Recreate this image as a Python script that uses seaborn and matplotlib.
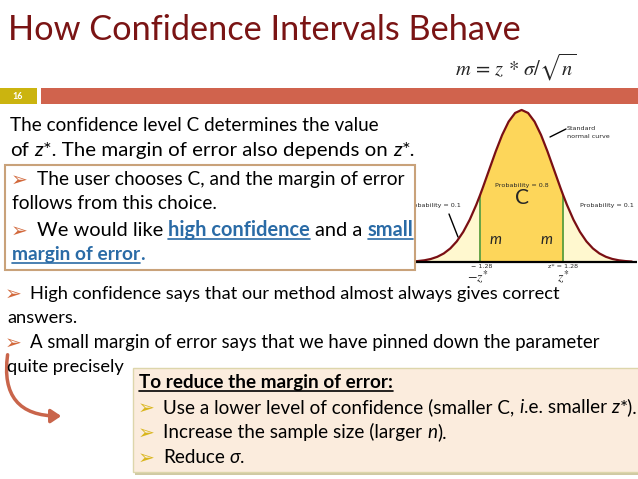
import numpy as np
import matplotlib
matplotlib.use('Agg')
import matplotlib.pyplot as plt
import seaborn as sns
from matplotlib.patches import Rectangle, FancyArrowPatch

# standard normal curve as drawn on the slide
z_vals = [-3.4, -3.2, -3.0, -2.8, -2.6, -2.4, -2.2, -2.0, -1.8, -1.6, -1.4, -1.28, -1.2,
          -1.0, -0.8, -0.6, -0.4, -0.2, 0.0, 0.2, 0.4, 0.6, 0.8, 1.0, 1.2, 1.28, 1.4,
          1.6, 1.8, 2.0, 2.2, 2.4, 2.6, 2.8, 3.0, 3.2, 3.4]
density = [0.0012, 0.0024, 0.0044, 0.0079, 0.0136, 0.0224, 0.0355, 0.0540, 0.0790, 0.1109,
           0.1497, 0.1758, 0.1942, 0.2420, 0.2897, 0.3332, 0.3683, 0.3910, 0.3989, 0.3910,
           0.3683, 0.3332, 0.2897, 0.2420, 0.1942, 0.1758, 0.1497, 0.1109, 0.0790, 0.0540,
           0.0355, 0.0224, 0.0136, 0.0079, 0.0044, 0.0024, 0.0012]
z_star = 1.28
z_star_height = 0.1758

title_text = 'How Confidence Intervals Behave'
slide_no = '16'

MAROON = '#7a1414'
BAR = '#d0634d'
OLIVE = '#cbb40f'
BLUE = '#2a6ba6'
GOLD = '#fdd65a'
PALE = '#fff8cf'
CURVE = '#7a0f14'
GREEN = '#5b9e3c'
ORANGE = '#d2693c'
YELLOW = '#d9b61c'

sns.set_theme(style='white')
plt.rcParams['font.family'] = ['Lato', 'DejaVu Sans']
plt.rcParams['mathtext.fontset'] = 'stix'

W, H = 638, 479
fig = plt.figure(figsize=(W / 100, H / 100), dpi=100)
fig.patch.set_facecolor('white')

bg = fig.add_axes([0, 0, 1, 1], zorder=0)
top = fig.add_axes([0, 0, 1, 1], zorder=2)
for a in (bg, top):
    a.set_xlim(0, W)
    a.set_ylim(H, 0)
    a.axis('off')

# ---- the normal curve picture ----
ax = fig.add_axes([413 / W, 1 - 285 / H, 224 / W, 185 / H], zorder=1)
z = np.array(z_vals)
d = np.array(density)
ax.fill_between(z, d, where=np.abs(z) <= z_star + 1e-9, color=GOLD, lw=0)
ax.fill_between(z, d, where=np.abs(z) >= z_star - 1e-9, color=PALE, lw=0)
ax.vlines([-z_star, z_star], 0, z_star_height, color=GREEN, lw=1.3)
sns.lineplot(x=z_vals, y=density, ax=ax, color=CURVE, lw=1.6)
ax.axhline(0, color='black', lw=1.6)
ax.set_xlim(-3.35, 3.56)
ax.set_ylim(-0.0604, 0.425)
ax.axis('off')

small = dict(fontsize=4.6, family='DejaVu Sans', transform=bg.transData)
ax.text(567, 128, 'Standard', va='center', **small)
ax.text(567, 137, 'normal curve', va='center', **small)
ax.plot([550, 566], [137, 129], color='black', lw=1, transform=bg.transData)
ax.text(522, 186, 'Probability = 0.8', ha='center', va='center', **small)
ax.text(461, 205, 'Probability = 0.1', ha='right', va='center', **small)
ax.text(634, 205, 'Probability = 0.1', ha='right', va='center', **small)
ax.plot([449, 458], [214, 237], color='black', lw=1, transform=bg.transData)
ax.text(522, 198, 'C', ha='center', va='center', fontsize=15, transform=bg.transData)
ax.text(496, 240, 'm', ha='center', va='center', fontsize=11, style='italic',
        transform=bg.transData)
ax.text(547, 240, 'm', ha='center', va='center', fontsize=11, style='italic',
        transform=bg.transData)
ax.text(482, 267, '\u2212 1.28', ha='center', va='center', **small)
ax.text(563, 267, 'z* = 1.28', ha='center', va='center', **small)
ax.text(478, 277, r'$-z^{*}$', ha='center', va='center', fontsize=10,
        transform=bg.transData)
ax.text(563, 277, r'$z^{*}$', ha='center', va='center', fontsize=10,
        transform=bg.transData)

# ---- text helpers ----
r = fig.canvas.get_renderer()


def seg_width(axis, s, size, kw):
    t = axis.text(0, 0, s, fontsize=size, **kw)
    w = t.get_window_extent(r).width
    t.remove()
    return w


def rich(axis, x, y, parts, size, draw=True):
    for s, st in parts:
        st = dict(st)
        under = st.pop('under', False)
        st.setdefault('color', 'black')
        sp = seg_width(axis, 'n n', size, st) - seg_width(axis, 'nn', size, st)
        core = s.strip(' ')
        x += (len(s) - len(s.lstrip(' '))) * sp
        w = seg_width(axis, core, size, st)
        if draw:
            axis.text(x, y, core, fontsize=size, va='baseline', zorder=4, **st)
            if under:
                axis.plot([x, x + w], [y + 2.6, y + 2.6], color=st['color'], lw=1.2,
                          zorder=4)
        x += w + (len(s) - len(s.rstrip(' '))) * sp
    return x


def fit(axis, parts, width):
    return 20 * width / rich(axis, 0, 0, parts, 20, draw=False)


def bullet(axis, x, y, color):
    axis.text(x, y + 1, '\u27a2', fontsize=14.5, family='DejaVu Sans', color=color,
              va='baseline', zorder=4)


I = dict(style='italic')
BL = dict(fontweight='bold', color=BLUE, under=True)

# ---- header ----
p = [(title_text, dict(color=MAROON))]
rich(bg, 8, 40, p, fit(bg, p, 514))
bg.text(455, 76, r'$m\,=\,z\,*\,\sigma/\sqrt{n}$', fontsize=14.8, va='baseline')
bg.add_patch(Rectangle((0, 88), 37, 16, color=OLIVE, lw=0))
bg.add_patch(Rectangle((41, 88), W - 41, 16, color=BAR, lw=0))
bg.text(18, 96, slide_no, color='white', fontsize=6.5, fontweight='bold',
        ha='center', va='center')

# ---- top paragraph ----
p = [('The confidence level C determines the value', {})]
s1 = fit(bg, p, 370)
rich(bg, 10, 131, p, s1)
p = [('of ', {}), ('z', I), ('*. The margin of error also depends on ', {}), ('z', I),
     ('*.', {})]
rich(bg, 10, 156, p, fit(bg, p, 405))

# ---- first box (sits over the picture) ----
top.add_patch(Rectangle((5, 165), 410, 105, facecolor='white', edgecolor='#c9a27a',
                        lw=1.5, zorder=1))
p = [('The user chooses C, and the margin of error', {})]
sb = fit(top, p, 368)
bullet(top, 11, 185, ORANGE)
rich(top, 37, 185, p, sb)
rich(top, 12, 209, [('follows from this choice.', {})], sb)
p = [('We would like ', {}), ('high confidence', BL), (' and a ', {}), ('small', BL)]
bullet(top, 11, 236, ORANGE)
rich(top, 37, 236, p, fit(top, p, 376))
rich(top, 12, 260, [('margin of error', BL), ('.', dict(fontweight='bold', color=BLUE))],
     sb)

# ---- middle paragraph ----
p = [('High confidence says that our method almost always gives correct', {})]
sm = fit(bg, p, 530)
bullet(bg, 5, 299, ORANGE)
rich(bg, 30, 299, p, sm)
rich(bg, 7, 323, [('answers.', {})], sm)
p = [('A small margin of error says that we have pinned down the parameter', {})]
bullet(bg, 5, 348, ORANGE)
rich(bg, 30, 348, p, fit(bg, p, 572))
rich(bg, 7, 372, [('quite precisely', {})], sm)

bg.add_patch(FancyArrowPatch((8, 352), (64, 416), connectionstyle='arc3,rad=0.6',
                             arrowstyle='-|>,head_length=6,head_width=4',
                             color='#c9654b', lw=2.5, zorder=2))

# ---- second box ----
bg.add_patch(Rectangle((135, 371), 510, 104, color='#cfc9a3', lw=0, zorder=1))
bg.add_patch(Rectangle((133, 368), 510, 104, facecolor='#fbecdd', edgecolor='#ddd6ab',
                       lw=1, zorder=1))
p = [('To reduce the margin of error:', dict(fontweight='bold', under=True))]
rich(bg, 139, 388, p, fit(bg, p, 253))
p = [('Use a lower level of confidence (smaller C, ', {}), ('i', I), ('.e. smaller ', {}),
     ('z', I), ('*).', {})]
s2 = fit(bg, p, 472)
bullet(bg, 138, 413, YELLOW)
rich(bg, 163, 413, p, s2)
bullet(bg, 138, 438, YELLOW)
rich(bg, 163, 438, [('Increase the sample size (larger ', {}), ('n', I), (').', {})], s2)
bullet(bg, 138, 463, YELLOW)
rich(bg, 163, 463, [('Reduce ', {}), ('\u03c3', I), ('.', {})], s2)

fig.savefig('out.png', dpi=100, facecolor='white')
